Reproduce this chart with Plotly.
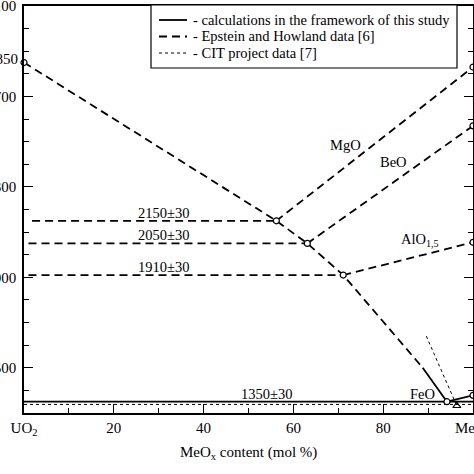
import plotly.graph_objects as go

# ---- data ----
uo2_liq_x = [0, 56.2, 63.1, 71.1, 88.8]
uo2_liq_y = [2850, 2150, 2050, 1910, 1500]
calc_x = [88.8, 94.2]
calc_y = [1500, 1350]
feo_liq_x = [94.2, 100]
feo_liq_y = [1350, 1378]
mgo_x = [56.2, 100]; mgo_y = [2150, 2830]
beo_x = [63.1, 100]; beo_y = [2050, 2570]
alo_x = [71.1, 100]; alo_y = [1910, 2055]
eut_start_x = [1.8, 1.0, 1.0]
eut_x = [56.2, 63.1, 71.1]
eut_y = [2150, 2050, 1910]
eut_labels = ["2150±30", "2050±30", "1910±30"]
feo_eut_y = 1350
cit_x = [89.6, 96.4]; cit_y = [1640, 1332]
cit_eut_y = 1338
melt_x = [0, 100, 100, 100, 100]
melt_y = [2850, 2830, 2570, 2055, 1378]
xtick_vals = [0, 20, 40, 60, 80, 100]
xtick_text = ["UO<sub>2</sub>", "20", "40", "60", "80", "MeO<sub>x</sub>"]
legend_names = ["- calculations in the framework of this study",
                "- Epstein and Howland data [6]",
                "- CIT project data [7]"]

FONT = "Liberation Serif, Times New Roman, serif"
K = "black"
solid = dict(color=K, width=1.8)
dash = dict(color=K, width=1.8, dash="8px,5px")
dot = dict(color=K, width=1, dash="dot")
legend_styles = [solid, dash, dot]

fig = go.Figure()

# Epstein & Howland dashed lines
fig.add_trace(go.Scatter(x=uo2_liq_x, y=uo2_liq_y, mode="lines", line=dash, showlegend=False))
for xs, ys in [(mgo_x, mgo_y), (beo_x, beo_y), (alo_x, alo_y)]:
    fig.add_trace(go.Scatter(x=xs, y=ys, mode="lines", line=dash, showlegend=False))
for xs0, xe, ye in zip(eut_start_x, eut_x, eut_y):
    fig.add_trace(go.Scatter(x=[xs0, xe], y=[ye, ye], mode="lines", line=dash, showlegend=False))

# calculations (solid)
fig.add_trace(go.Scatter(x=calc_x, y=calc_y, mode="lines", line=solid, showlegend=False))
fig.add_trace(go.Scatter(x=feo_liq_x, y=feo_liq_y, mode="lines", line=solid, showlegend=False))
fig.add_trace(go.Scatter(x=[0, 100], y=[feo_eut_y, feo_eut_y], mode="lines", line=solid, showlegend=False))

# CIT dotted
fig.add_trace(go.Scatter(x=cit_x, y=cit_y, mode="lines", line=dot, showlegend=False))
fig.add_trace(go.Scatter(x=[0, 100], y=[cit_eut_y, cit_eut_y], mode="lines", line=dot, showlegend=False))
fig.add_trace(go.Scatter(x=[cit_x[-1]], y=[cit_y[-1]], mode="markers",
                         marker=dict(symbol="triangle-up-open", size=7, color=K, line=dict(width=1.2)),
                         showlegend=False))

# markers
fig.add_trace(go.Scatter(x=eut_x + melt_x + [feo_liq_x[0]], y=eut_y + melt_y + [feo_liq_y[0]], mode="markers",
                         marker=dict(symbol="circle", size=6, color="white", line=dict(color=K, width=1.2)),
                         showlegend=False, cliponaxis=False))

# ---- layout helpers (pixel -> paper) ----
L, R, T, B = 24, 473, 6, 413
def px(x): return (x - L) / (R - L)
def py(y): return (B - y) / (B - T)

ann = []
shapes = []
tf = dict(family=FONT, size=14.5, color=K)
lf = dict(family=FONT, size=14.5, color=K)
for lab, ye in zip(eut_labels, eut_y):
    ann.append(dict(x=31, y=ye, text=lab, showarrow=False, yanchor="middle", yshift=8, font=tf))
ann.append(dict(x=54, y=feo_eut_y, text="1350±30", showarrow=False, yanchor="middle", yshift=8, font=tf))
ann.append(dict(x=71.7, y=2485, text="MgO", showarrow=False, font=tf))
ann.append(dict(x=82.4, y=2410, text="BeO", showarrow=False, font=tf))
ann.append(dict(x=88.2, y=2065, text="AlO<sub>1,5</sub>", showarrow=False, font=tf))
ann.append(dict(x=88.7, y=1383, text="FeO", showarrow=False, font=tf))
ann.append(dict(x=0, y=2850, text="2850", showarrow=False, xanchor="right", xshift=-4, yshift=4,
                font=dict(family=FONT, size=15, color=K)))
ann.append(dict(x=0.5, y=py(453), xref="paper", yref="paper", text="MeO<sub>x</sub> content (mol %)",
                showarrow=False, yanchor="middle", font=dict(family=FONT, size=15, color=K)))

# legend box (drawn by hand for compact rows)
shapes.append(dict(type="rect", xref="paper", yref="paper", x0=px(151), x1=px(457), y0=py(68), y1=py(5),
                   fillcolor="white", line=dict(color=K, width=1.2), layer="above"))
for i, (name, st) in enumerate(zip(legend_names, legend_styles)):
    yrow = 20 + i * 16.5
    shapes.append(dict(type="line", xref="paper", yref="paper", x0=px(159), x1=px(187),
                       y0=py(yrow), y1=py(yrow), line=st, layer="above"))
    ann.append(dict(x=px(191), y=py(yrow), xref="paper", yref="paper", text=name, showarrow=False,
                    xanchor="left", yanchor="middle", font=lf))

fig.update_layout(
    width=474, height=474,
    margin=dict(l=L, r=474 - R, t=T, b=474 - B, autoexpand=False),
    plot_bgcolor="white", paper_bgcolor="white",
    font=tf, annotations=ann, shapes=shapes, showlegend=False,
)
fig.update_xaxes(range=[0, 100], tickvals=xtick_vals, ticktext=xtick_text,
                 ticks="inside", ticklen=9, tickwidth=1.2, tickcolor=K,
                 minor=dict(dtick=10, tick0=0, ticks="inside", ticklen=5, tickcolor=K, tickwidth=1.2),
                 showline=True, linecolor=K, linewidth=1.5, mirror=True, showgrid=False,
                 zeroline=False, automargin=False, ticklabeloverflow="allow",
                 tickfont=dict(family=FONT, size=15, color=K))
fig.update_yaxes(range=[1300, 3100], tick0=1500, dtick=400,
                 ticks="inside", ticklen=9, tickwidth=1.2, tickcolor=K,
                 minor=dict(dtick=100, tick0=1300, ticks="inside", ticklen=5, tickcolor=K, tickwidth=1.2),
                 showline=True, linecolor=K, linewidth=1.5, mirror="ticks", showgrid=False,
                 zeroline=False, automargin=False, ticklabelstandoff=3, ticklabeloverflow="allow",
                 tickfont=dict(family=FONT, size=15, color=K))

fig.write_html("out.html")
